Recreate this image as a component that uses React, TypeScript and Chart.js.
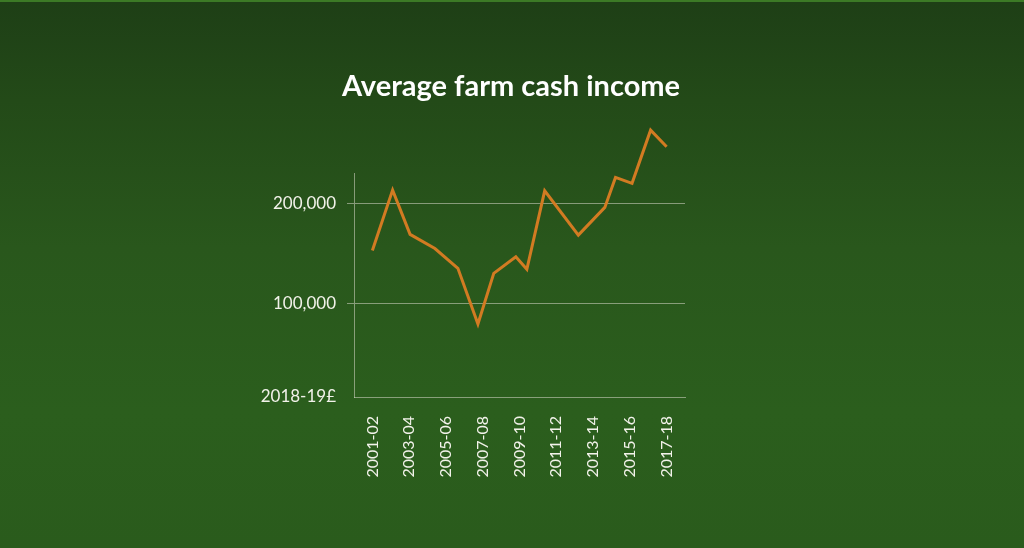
import React, { useEffect, useRef } from "react";
import { Chart, registerables } from "chart.js";

Chart.register(...registerables);

const chartTitle = "Average farm cash income";
const unitLabel = "2018-19£";
// x position of each vertex, in years (start year of the farm year)
const pointYears = [2001.0, 2002.1, 2003.05, 2004.4, 2005.65, 2006.74, 2007.6, 2008.8, 2009.4, 2010.37, 2012.2, 2013.64, 2014.22, 2015.12, 2016.13, 2017.0];
// average farm cash income, £ (2018-19 prices)
const incomeValues = [153000, 213600, 169200, 155000, 135100, 79200, 130100, 146700, 134100, 212900, 168500, 196300, 226400, 220400, 273800, 257100];
const xTickYears = [2001, 2003, 2005, 2007, 2009, 2011, 2013, 2015, 2017];
const xTickLabels = ["2001-02", "2003-04", "2005-06", "2007-08", "2009-10", "2011-12", "2013-14", "2015-16", "2017-18"];
const yAxisMin = 6000;
const yAxisMax = 230000;
const yTickValues = [6000, 100000, 200000];
const xAxisMin = 2000;
const xAxisMax = 2018;

export default function App() {
  const canvasRef = useRef<HTMLCanvasElement | null>(null);

  useEffect(() => {
    document.body.style.margin = "0";
    const canvas = canvasRef.current;
    if (!canvas) return;
    const gridColor = "rgba(215,215,200,0.55)";
    const chart = new Chart(canvas, {
      type: "line",
      data: {
        datasets: [
          {
            data: pointYears.map((x, i) => ({ x, y: incomeValues[i] })),
            borderColor: "#d27b22",
            borderWidth: 3,
            borderJoinStyle: "miter",
            pointRadius: 0,
            tension: 0,
            fill: false,
            clip: false as any,
            yAxisID: "y",
          },
        ],
      },
      options: {
        animation: false,
        responsive: true,
        maintainAspectRatio: false,
        layout: { padding: { left: 254, right: 256, top: 0, bottom: 51 } },
        plugins: {
          legend: { display: false },
          tooltip: { enabled: false },
          title: {
            display: true,
            text: chartTitle,
            color: "#ffffff",
            font: { family: "Lato", size: 29, weight: "bold" },
            padding: { top: 67, bottom: 70 },
          },
        },
        scales: {
          x: {
            type: "linear",
            min: xAxisMin,
            max: xAxisMax,
            afterBuildTicks: (scale: any) => {
              scale.ticks = xTickYears.map((v) => ({ value: v }));
            },
            afterFit: (scale: any) => {
              scale.height = 100;
            },
            grid: { display: false, drawTicks: false },
            border: { display: true, color: gridColor, width: 1 },
            ticks: {
              autoSkip: false,
              minRotation: 90,
              maxRotation: 90,
              padding: 19,
              color: "#f2f2ea",
              font: { family: "Lato", size: 16 },
              callback: (value: any) => {
                const i = xTickYears.indexOf(Number(value));
                return i >= 0 ? xTickLabels[i] : "";
              },
            },
          },
          y: {
            type: "linear",
            position: "left",
            min: yAxisMin,
            max: yAxisMax,
            afterBuildTicks: (scale: any) => {
              scale.ticks = yTickValues.map((v) => ({ value: v }));
            },
            afterFit: (scale: any) => {
              scale.width = 100;
            },
            grid: {
              display: true,
              drawTicks: true,
              tickLength: 7,
              color: (ctx: any) => (ctx.tick && ctx.tick.value === yAxisMin ? "rgba(0,0,0,0)" : gridColor),
              lineWidth: 1,
            },
            border: { display: true, color: gridColor, width: 1 },
            ticks: {
              padding: 11,
              color: "#f2f2ea",
              font: { family: "Lato", size: 17 },
              callback: (value: any) => (Number(value) === yAxisMin ? unitLabel : Number(value).toLocaleString("en-US")),
            },
          },
          spacer: {
            type: "linear",
            position: "right",
            display: true,
            afterFit: (scale: any) => {
              scale.width = 83;
            },
            grid: { display: false, drawTicks: false },
            border: { display: false },
            ticks: { display: false },
          },
        },
      },
    });
    return () => chart.destroy();
  }, []);

  return (
    <div
      style={{
        position: "fixed",
        left: 0,
        top: 0,
        width: "1024px",
        height: "548px",
        boxSizing: "border-box",
        borderTop: "2px solid #3c7a26",
        background:
          "linear-gradient(180deg, #1e3f16 0%, #234a18 18%, #29571c 45%, #2b5e1d 75%, #2a5b1c 100%)",
      }}
    >
      <canvas ref={canvasRef} />
    </div>
  );
}
